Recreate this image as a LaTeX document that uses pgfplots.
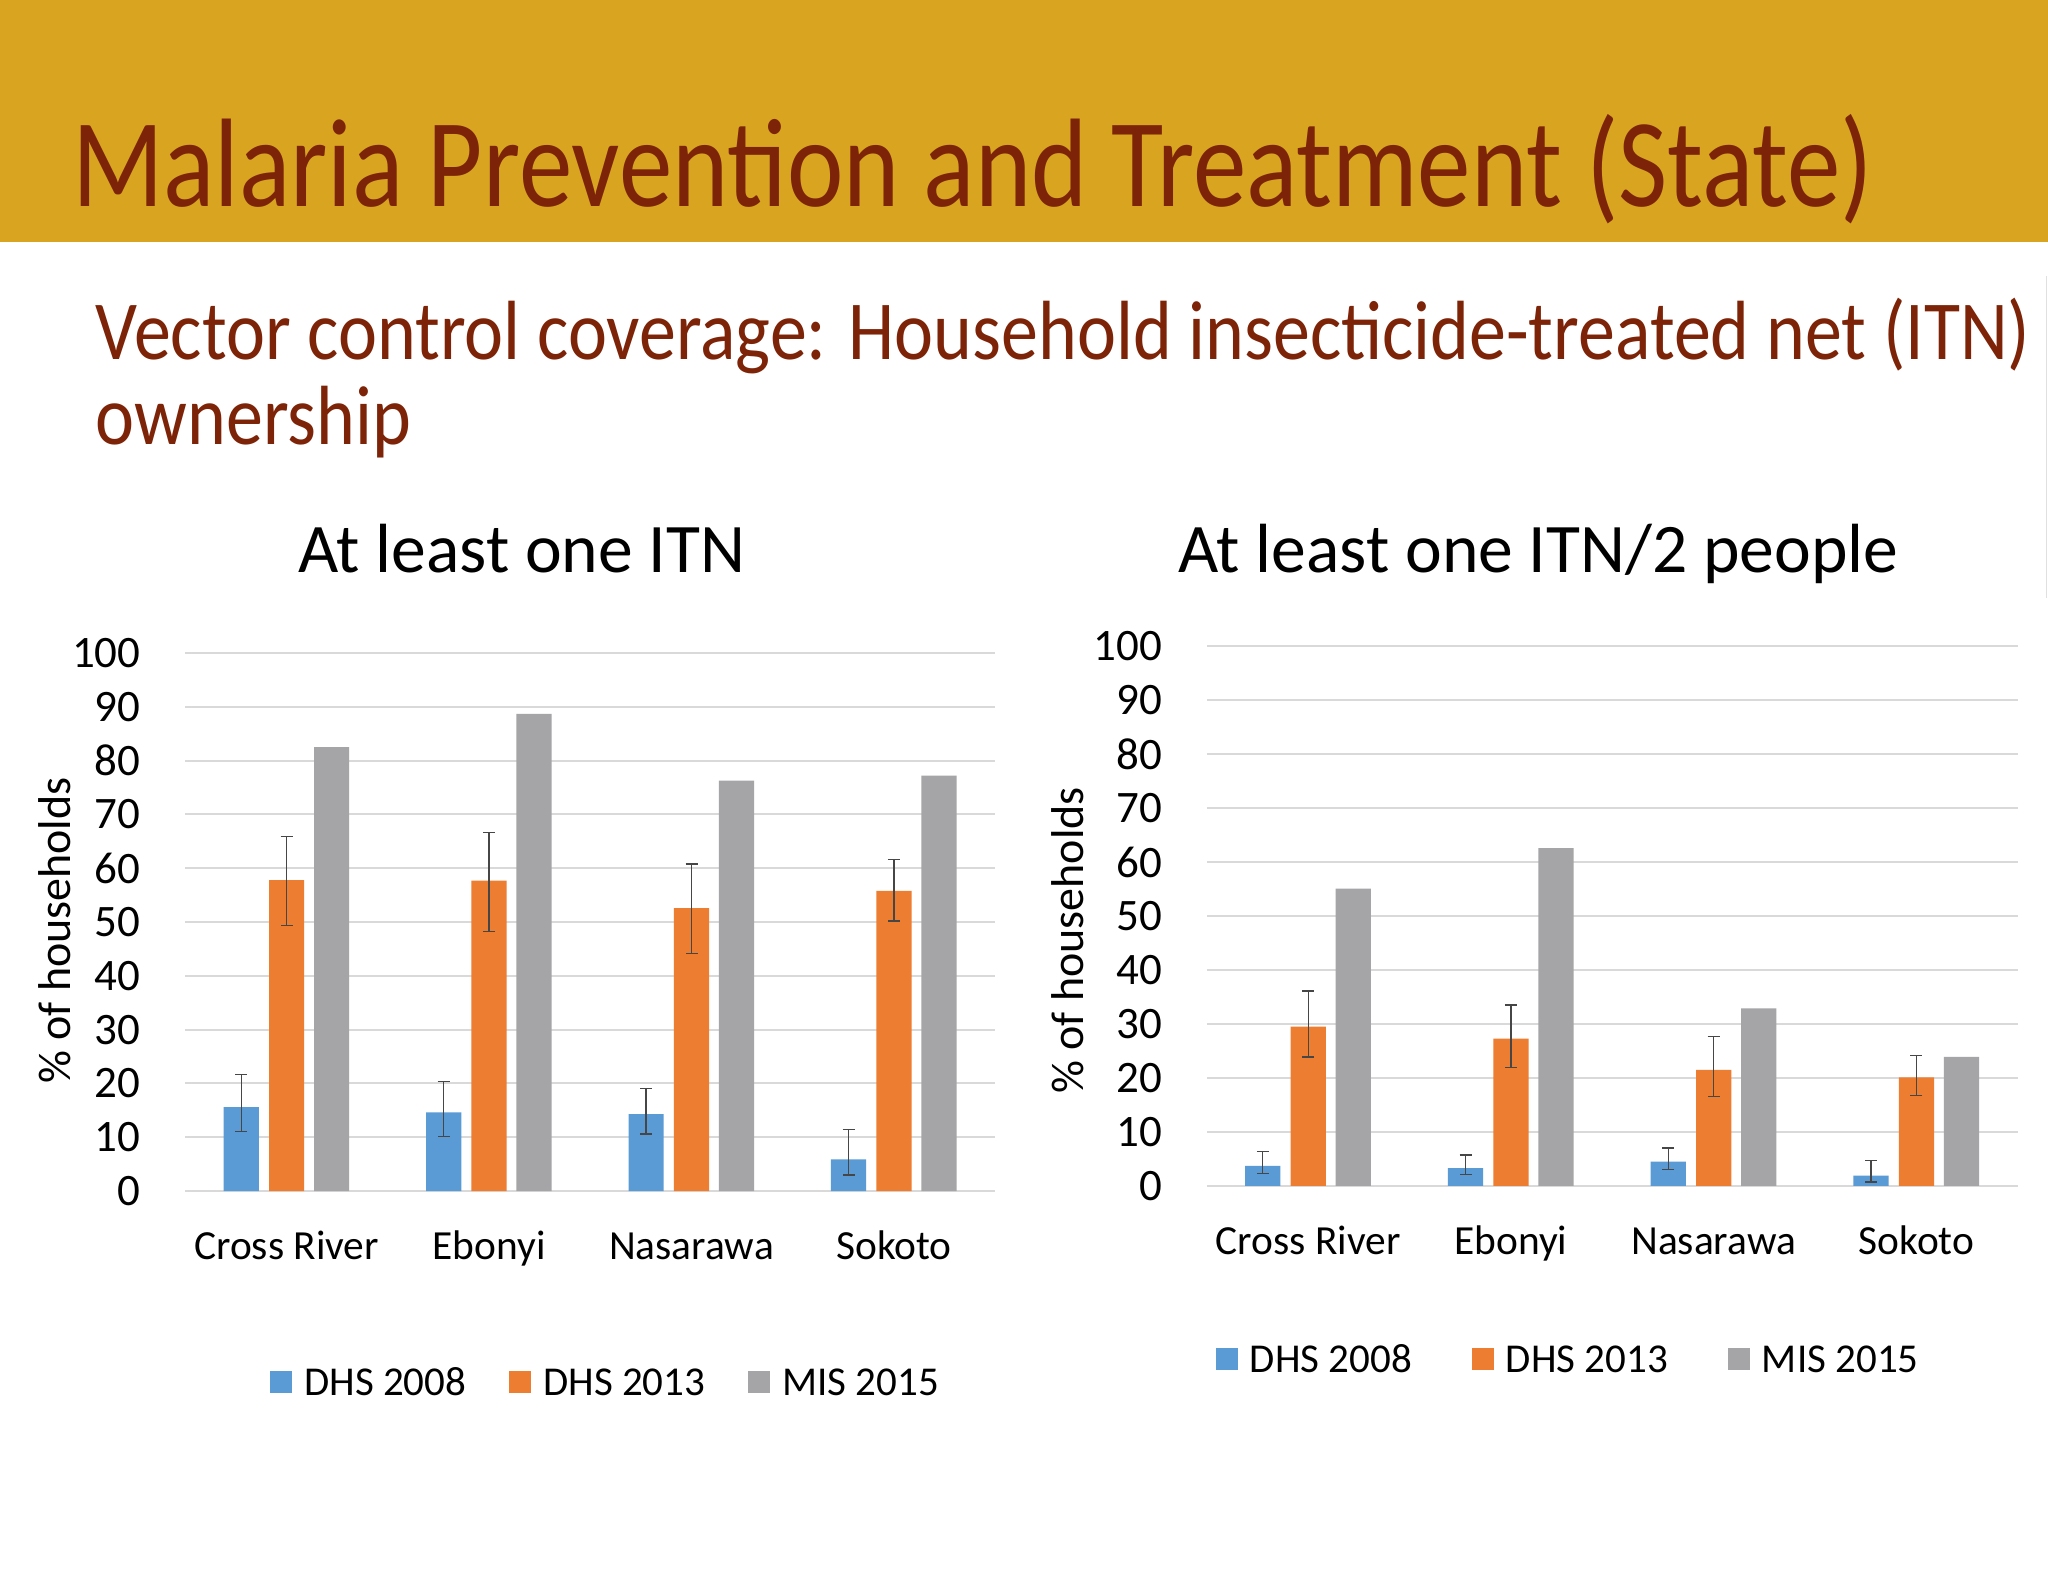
\documentclass[border=0pt]{standalone}
\usepackage{fontspec}
\setmainfont{Carlito}
\usepackage{pgfplots}
\pgfplotsset{compat=1.18}
\usepackage{pgfplotstable}

\definecolor{band}{RGB}{217,165,33}
\definecolor{titlered}{RGB}{125,36,8}
\definecolor{cBlue}{HTML}{5B9BD5}
\definecolor{cOrange}{HTML}{ED7D31}
\definecolor{cGray}{HTML}{A5A5A7}
\definecolor{gridgray}{HTML}{D9D9D9}
\definecolor{errgray}{HTML}{464646}

% At least one ITN: value, lower and upper CI bounds
\pgfplotstableread{
x v    lo   hi
0 15.6 11.0 21.6
1 14.6 10.2 20.3
2 14.3 10.6 19.1
3 5.9  3.0  11.5
}\oneA
\pgfplotstableread{
x v    lo   hi
0 57.8 49.3 65.9
1 57.7 48.2 66.6
2 52.6 44.2 60.8
3 55.8 50.2 61.6
}\oneB
\pgfplotstableread{
x v
0 82.5
1 88.7
2 76.3
3 77.2
}\oneC

% At least one ITN per 2 people
\pgfplotstableread{
x v    lo   hi
0 3.7  2.3  6.4
1 3.3  2.1  5.7
2 4.5  3.0  7.0
3 1.9  0.7  4.7
}\twoA
\pgfplotstableread{
x v    lo   hi
0 29.5 23.9 36.1
1 27.3 21.9 33.5
2 21.5 16.6 27.7
3 20.1 16.7 24.1
}\twoB
\pgfplotstableread{
x v
0 55.1
1 62.6
2 32.9
3 23.9
}\twoC

\pgfplotsset{
  itnaxis/.style={
    scale only axis,
    ybar, bar width=17.6pt,
    ymin=0, ymax=100, ytick={0,10,...,100},
    xmin=-0.5, xmax=3.5, xtick={0,1,2,3},
    xticklabels={Cross River,Ebonyi,Nasarawa,Sokoto},
    ymajorgrids, grid style={draw=gridgray, line width=1pt},
    axis line style={draw=none}, tick style={draw=none},
    /pgf/number format/assume math mode=true,
    yticklabel style={anchor=east, inner sep=0pt, xshift=-22.2pt,
      font=\fontsize{22.5}{27}\selectfont},
    xticklabel style={anchor=base, inner sep=0pt, yshift=-30pt,
      font=\fontsize{20.7}{25}\selectfont},
    ylabel={\% of households},
    ylabel style={font=\fontsize{23}{28}\selectfont, anchor=center},
    legend columns=3,
    legend image code/.code={\fill[##1] (0pt,1pt) rectangle (11.1pt,12.1pt);},
    legend style={draw=none, fill=none, inner sep=0pt, outer sep=0pt,
      anchor=west, column sep=0pt,
      font=\fontsize{20.5}{25}\selectfont,
      nodes={inner sep=0pt, anchor=base west},
      /tikz/every odd column/.append style={column sep=5.9pt}},
    every axis plot/.append style={draw=none},
    errs/.style={error bars/.cd, y dir=both, y explicit,
      error bar style={draw=errgray, line width=0.65pt},
      error mark options={rotate=90, draw=errgray, line width=0.65pt, mark size=3pt}},
  },
}

\begin{document}
\begin{tikzpicture}
\useasboundingbox (0,0) rectangle (1024pt,-790.8pt);
\fill[white] (0,0) rectangle (1024pt,-790.8pt);
\fill[band] (0,0) rectangle (1024pt,-120.8pt);
\draw[black!12, line width=0.6pt] (1023.4pt,-138pt) -- (1023.4pt,-299pt);

\node[anchor=base west, inner sep=0pt, text=titlered] at (35.9pt,-103.2pt)
  {\fontsize{63}{70}\selectfont\scalebox{0.849}[1]{Malaria Prevention and Treatment (State)}};
\node[anchor=base west, inner sep=0pt, text=titlered] at (47.7pt,-179.6pt)
  {\fontsize{42}{50}\selectfont\scalebox{0.88}[1]{Vector control coverage: Household insecticide-treated net (ITN)}};
\node[anchor=base west, inner sep=0pt, text=titlered] at (47.7pt,-222pt)
  {\fontsize{42}{50}\selectfont\scalebox{0.88}[1]{ownership}};

\node[anchor=base west, inner sep=0pt] at (148.9pt,-286pt)
  {\fontsize{34.8}{42}\selectfont At least one ITN};
\node[anchor=base west, inner sep=0pt] at (589pt,-286pt)
  {\fontsize{34.8}{42}\selectfont At least one ITN/2 people};

% left chart
\begin{axis}[itnaxis, at={(92.7pt,-595.5pt)}, anchor=south west,
  width=404.9pt, height=269pt,
  ylabel style={at={(rel axis cs:-0.161,0.484)}},
  legend style={at={(0.1048,-0.3568)},
    /tikz/every even column/.append style={column sep=21.5pt}}]
\addplot[fill=cBlue, bar shift=-22.7pt, errs]
  table[x=x, y=v, y error plus expr=\thisrow{hi}-\thisrow{v}, y error minus expr=\thisrow{v}-\thisrow{lo}] {\oneA};
\addplot[fill=cOrange, bar shift=0pt, errs]
  table[x=x, y=v, y error plus expr=\thisrow{hi}-\thisrow{v}, y error minus expr=\thisrow{v}-\thisrow{lo}] {\oneB};
\addplot[fill=cGray, bar shift=22.5pt] table[x=x, y=v] {\oneC};
\legend{DHS 2008, DHS 2013, MIS 2015}
\end{axis}

% right chart
\begin{axis}[itnaxis, at={(603.4pt,-592.9pt)}, anchor=south west,
  width=405.5pt, height=269.7pt,
  ylabel style={at={(rel axis cs:-0.171,0.455)}},
  legend style={at={(0.0113,-0.322)},
    /tikz/every even column/.append style={column sep=30pt}}]
\addplot[fill=cBlue, bar shift=-22.7pt, errs]
  table[x=x, y=v, y error plus expr=\thisrow{hi}-\thisrow{v}, y error minus expr=\thisrow{v}-\thisrow{lo}] {\twoA};
\addplot[fill=cOrange, bar shift=0pt, errs]
  table[x=x, y=v, y error plus expr=\thisrow{hi}-\thisrow{v}, y error minus expr=\thisrow{v}-\thisrow{lo}] {\twoB};
\addplot[fill=cGray, bar shift=22.5pt] table[x=x, y=v] {\twoC};
\legend{DHS 2008, DHS 2013, MIS 2015}
\end{axis}
\end{tikzpicture}
\end{document}
